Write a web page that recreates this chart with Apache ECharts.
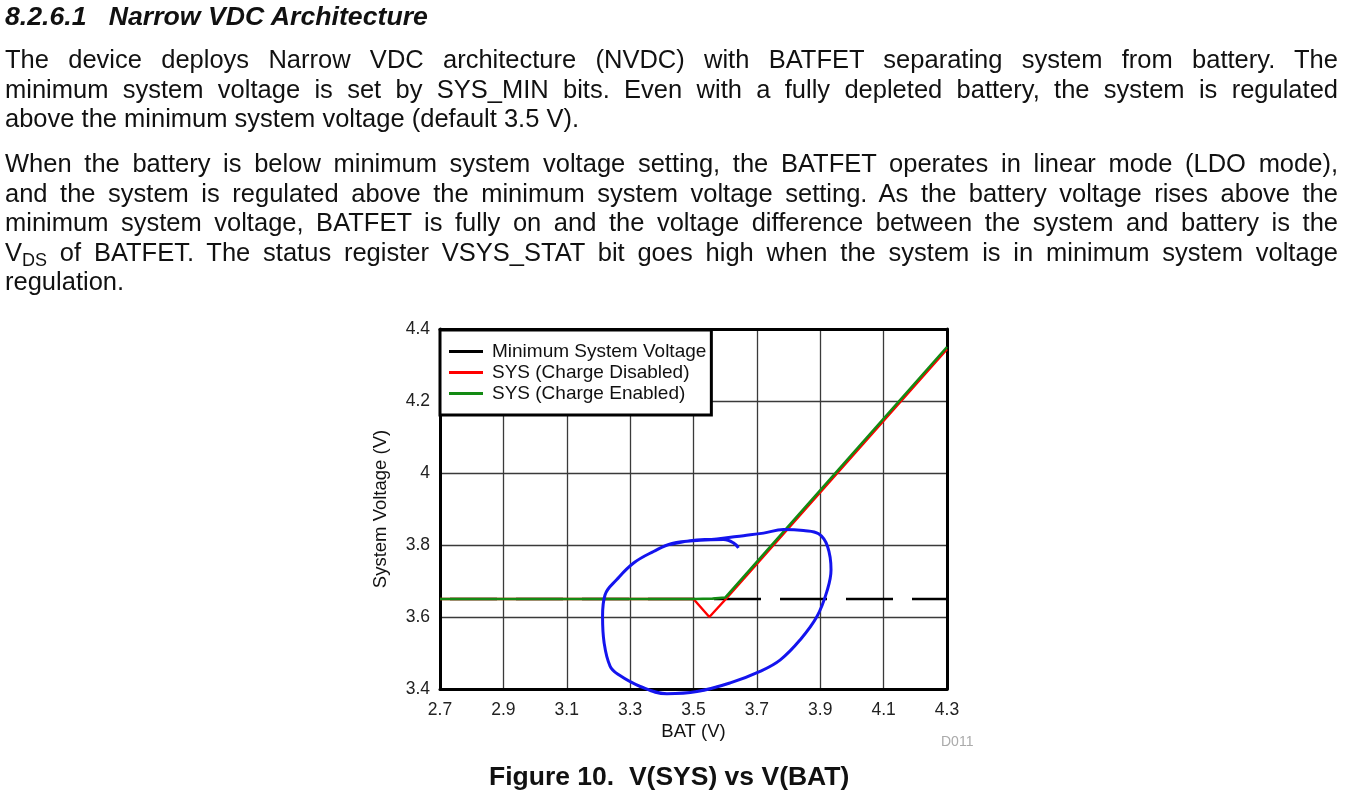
<!DOCTYPE html>
<html>
<head>
<meta charset="utf-8">
<script src="https://cdn.jsdelivr.net/npm/echarts@6/dist/echarts.min.js"></script>
<style>
  html, body { margin:0; padding:0; background:#fff; }
  body { width:1353px; height:809px; position:relative; overflow:hidden; font-family:"Liberation Sans", Arial, sans-serif; color:#111; }
  #chart { position:absolute; left:0; top:0; width:1353px; height:809px; }
  .txt { position:absolute; left:5px; width:1333px; z-index:2; }
  .h { position:absolute; left:5px; top:1px; font-weight:bold; font-style:italic; font-size:26.7px; line-height:30px; z-index:2; white-space:nowrap; }
  .ln { font-size:25.5px; line-height:29.5px; height:29.5px; white-space:nowrap; }
  .ln sub { font-size:18px; vertical-align:-5px; line-height:0; }
</style>
</head>
<body>
<div id="chart"></div>
<div class="h">8.2.6.1<span style="display:inline-block;width:22px"></span>Narrow VDC Architecture</div>
<div class="txt" style="top:45px">
  <div class="ln j"><span>The device deploys Narrow VDC architecture (NVDC) with BATFET separating system from battery. The</span></div>
  <div class="ln j"><span>minimum system voltage is set by SYS_MIN bits. Even with a fully depleted battery, the system is regulated</span></div>
  <div class="ln"><span>above the minimum system voltage (default 3.5 V).</span></div>
</div>
<div class="txt" style="top:149px">
  <div class="ln j"><span>When the battery is below minimum system voltage setting, the BATFET operates in linear mode (LDO mode),</span></div>
  <div class="ln j"><span>and the system is regulated above the minimum system voltage setting. As the battery voltage rises above the</span></div>
  <div class="ln j"><span>minimum system voltage, BATFET is fully on and the voltage difference between the system and battery is the</span></div>
  <div class="ln j"><span>V<sub>DS</sub> of BATFET. The status register VSYS_STAT bit goes high when the system is in minimum system voltage</span></div>
  <div class="ln"><span>regulation.</span></div>
</div>
<script>
// ---- data ----
const xTickLabels = ['2.7','2.9','3.1','3.3','3.5','3.7','3.9','4.1','4.3'];
const minSystemVoltage = [[2.7, 3.65], [4.3, 3.65]];
const sysChargeDisabled = [[2.7, 3.65], [3.5, 3.65], [3.55, 3.60], [3.6, 3.648], [4.3, 4.344]];
const sysChargeEnabled = [[2.7, 3.65], [3.5, 3.65], [3.56, 3.651], [3.6, 3.654], [4.3, 4.35]];
const annotationLoop = [
  [3.642,3.792],[3.626,3.806],[3.595,3.815],[3.521,3.813],[3.432,3.804],[3.374,3.782],
  [3.311,3.750],[3.258,3.704],[3.221,3.662],[3.213,3.602],[3.218,3.528],[3.237,3.463],
  [3.263,3.440],[3.332,3.407],[3.416,3.387],[3.511,3.393],[3.616,3.417],[3.710,3.449],
  [3.774,3.481],[3.837,3.537],[3.890,3.602],[3.921,3.671],[3.934,3.731],[3.923,3.796],
  [3.895,3.831],[3.847,3.840],[3.784,3.843],[3.721,3.833],[3.658,3.826],[3.574,3.817],
  [3.489,3.812],[3.426,3.801]
];
const seriesNames = ['Minimum System Voltage', 'SYS (Charge Disabled)', 'SYS (Charge Enabled)'];

// ---- text justification ----
document.querySelectorAll('.ln.j').forEach(el => {
  const span = el.querySelector('span');
  const w = span.getBoundingClientRect().width;
  const n = (span.textContent.match(/ /g) || []).length;
  if (n > 0) el.style.wordSpacing = ((1333 - w) / n) + 'px';
});

const FONT = '"Liberation Sans", Arial, sans-serif';
const chart = echarts.init(document.getElementById('chart'), null, { renderer: 'canvas' });
chart.setOption({
  animation: false,
  backgroundColor: 'transparent',
  title: [
    { text: 'Figure 10.  V(SYS) vs V(BAT)', left: 489, top: 764,
      textStyle: { fontFamily: FONT, fontSize: 26.5, fontWeight: 'bold', color: '#111' }, padding: 0 },
    { text: 'D011', left: 941, top: 735,
      textStyle: { fontFamily: FONT, fontSize: 14, fontWeight: 'normal', color: '#aaaaaa' }, padding: 0 }
  ],
  grid: { left: 440, right: 406, top: 329, bottom: 120, containLabel: false },
  legend: {
    data: seriesNames, orient: 'vertical', left: 440, top: 330,
    selectedMode: false, icon: 'rect', itemWidth: 34, itemHeight: 3, itemGap: 2,
    padding: [12, 5, 12, 9], backgroundColor: '#fff', borderColor: '#000', borderWidth: 3, borderRadius: 0,
    textStyle: { fontFamily: FONT, fontSize: 19, color: '#111', padding: [0, 0, 0, 4] }
  },
  xAxis: [
    { type: 'category', data: xTickLabels, boundaryGap: false, position: 'bottom',
      name: 'BAT (V)', nameLocation: 'middle', nameGap: 33,
      nameTextStyle: { fontFamily: FONT, fontSize: 18.5, color: '#111' },
      axisLine: { show: true, lineStyle: { color: '#000', width: 3 } },
      axisTick: { show: false },
      axisLabel: { fontFamily: FONT, fontSize: 17.5, color: '#222', margin: 12, interval: 0 },
      splitLine: { show: true, lineStyle: { color: '#3a3a3a', width: 1.3 } } },
    { type: 'value', min: 2.7, max: 4.3, position: 'top',
      axisLine: { show: true, lineStyle: { color: '#000', width: 3 } },
      axisTick: { show: false }, axisLabel: { show: false }, splitLine: { show: false } }
  ],
  yAxis: [
    { type: 'value', min: 3.4, max: 4.4, interval: 0.2, position: 'left',
      name: 'System Voltage (V)', nameLocation: 'middle', nameGap: 50,
      nameTextStyle: { fontFamily: FONT, fontSize: 18.5, color: '#111' },
      axisLine: { show: true, lineStyle: { color: '#000', width: 3 } },
      axisTick: { show: false },
      axisLabel: { fontFamily: FONT, fontSize: 17.5, color: '#222', margin: 10 },
      splitLine: { show: true, lineStyle: { color: '#3a3a3a', width: 1.3 } } },
    { type: 'value', min: 3.4, max: 4.4, position: 'right',
      axisLine: { show: true, lineStyle: { color: '#000', width: 3 } },
      axisTick: { show: false }, axisLabel: { show: false }, splitLine: { show: false } }
  ],
  series: [
    { name: seriesNames[0], type: 'line', xAxisIndex: 1, yAxisIndex: 0, data: minSystemVoltage,
      symbol: 'none', color: '#000',
      lineStyle: { color: '#000', width: 2.6, type: [47, 19], dashOffset: 56 } },
    { name: seriesNames[1], type: 'line', xAxisIndex: 1, yAxisIndex: 0, data: sysChargeDisabled,
      symbol: 'none', color: '#ff0000', lineStyle: { color: '#ff0000', width: 2.4 } },
    { name: seriesNames[2], type: 'line', xAxisIndex: 1, yAxisIndex: 0, data: sysChargeEnabled,
      symbol: 'none', color: '#138a13', lineStyle: { color: '#138a13', width: 2.6 } },
    { name: 'annotation', type: 'line', xAxisIndex: 1, yAxisIndex: 0, data: annotationLoop,
      symbol: 'none', smooth: 0.4, clip: false, silent: true, z: 5,
      lineStyle: { color: '#1414ee', width: 3 } }
  ]
});
</script>
</body>
</html>
